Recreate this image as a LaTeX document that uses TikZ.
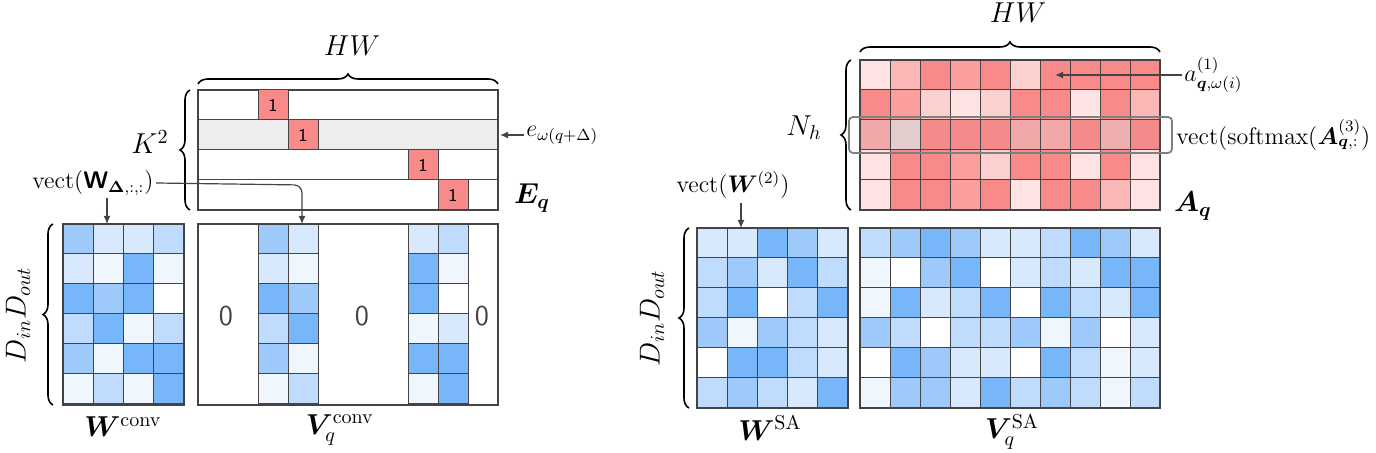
\documentclass[tikz,border=0pt]{standalone}
\usepackage{amsmath,bm}
\usetikzlibrary{decorations.pathreplacing,arrows.meta}
\definecolor{b0}{HTML}{FFFFFF}\definecolor{b1}{HTML}{F0F6FE}\definecolor{b2}{HTML}{D9E9FD}
\definecolor{b3}{HTML}{BFDBFD}\definecolor{b4}{HTML}{9EC9FB}\definecolor{b5}{HTML}{78B6FA}
\definecolor{r0}{HTML}{FFE3E3}\definecolor{r1}{HTML}{FDD0D0}\definecolor{r2}{HTML}{FBB6B6}
\definecolor{r3}{HTML}{FA9E9E}\definecolor{r4}{HTML}{F98A8A}
\definecolor{g1}{HTML}{F4A9A9}\definecolor{g2}{HTML}{E8D0D0}\definecolor{g3}{HTML}{F2B0B0}
\definecolor{ln}{HTML}{444444}
\newcommand\drawgrid[4]{\foreach \row [count=\j from 0] in {#4}{\foreach \c [count=\i from 0] in \row {\draw[cell,fill=\c] ({#1+\i*#3},{#2+\j*30}) rectangle ++(#3,30);}}}
\begin{document}
\begin{tikzpicture}[x=0.5pt,y=-0.5pt,
  cell/.style={draw=ln,line width=0.5pt},
  frame/.style={draw=ln,line width=0.6pt},
  one/.style={cell,fill=r4},
  br/.style={decorate,decoration={brace,amplitude=5pt},line width=0.8pt},
  arr/.style={-{Latex[length=4pt,width=3.5pt]},draw=ln,line width=0.6pt},
  lab/.style={inner sep=1pt,font=\large},
  big/.style={font=\Large,inner sep=1pt}]
\useasboundingbox (0,0) rectangle (1376,453);
% ---------- left: E_q
\fill[black!7] (198,120) rectangle (498,150);
\foreach \y in {120,150,180} \draw[ln,line width=0.5pt] (198,\y) -- (498,\y);
\draw[frame] (198,90) rectangle (498,210);
\foreach \x/\y in {258/90,288/120,408/150,438/180}
  {\draw[one] (\x,\y) rectangle ++(30,30); \node[font=\sffamily\small] at (\x+15,\y+15) {1};}
\draw[br] (198,84) -- (498,84);
\node[big] (hw1) at (352,46) {$HW$};
\draw[br] (190,210) -- (190,90);
\node[big] (k2) at (150,142) {$K^2$};
\coordinate (erow) at (500,135);
\node[lab,anchor=west] (elab) at (524,135) {$e_{\omega(q+\Delta)}$};
\draw[arr] (elab.west) -- (erow);
\node[big] (eq) at (532,198) {$\bm{E_q}$};
% ---------- W^conv
\drawgrid{63}{224}{30.25}{{b4,b2,b2,b3},{b2,b1,b5,b1},{b5,b4,b5,b0},{b3,b5,b1,b3},{b4,b1,b5,b5},{b1,b3,b1,b5}}
\draw[frame] (63,224) rectangle (184,405);
% ---------- V^conv
\drawgrid{258}{224}{30}{{b4,b2},{b2,b1},{b5,b4},{b3,b5},{b4,b1},{b1,b3}}
\drawgrid{408}{224}{30}{{b2,b3},{b5,b1},{b5,b0},{b1,b2},{b5,b5},{b1,b5}}
\draw[frame] (198,224) rectangle (498,405);
\foreach \x in {226,362,482} \node[font=\sffamily\Large,text=ln] at (\x,316) {0};
\node[lab] (vw) at (93,183) {$\mathrm{vect}(\textsf{\bfseries W}_{\bm{\Delta},:,:})$};
\coordinate (wtop) at (107,224);
\coordinate (vtop) at (302,224);
\draw[arr] (107,198) -- (wtop);
\draw[arr,rounded corners=4pt] (vw.east) -- (302,185) -- (vtop);
\draw[br] (53,405) -- (53,224);
\node[big,rotate=90] (dd1) at (18,315) {$D_{in}D_{out}$};
\node[big] (wc) at (123,427) {$\bm{W}^{\mathrm{conv}}$};
\node[big] (vc) at (340,430) {$\bm{V}_{q}^{\mathrm{conv}}$};
% ---------- right: A_q
\drawgrid{860}{60}{30}{{r0,r2,r4,r3,r4,r1,r4,r4,r4,r4},{r4,r3,r1,r0,r1,r4,r4,r0,r4,r2},{g1,g2,r4,r4,r4,g1,g1,r4,g3,r4},{r0,r4,r4,r3,r1,r4,r4,r0,r4,r0},{r0,r4,r4,r3,r4,r0,r4,r4,r2,r0}}
\draw[frame] (860,60) rectangle (1160,210);
\draw[draw=black!50,fill=black!40,fill opacity=0.04,line width=0.9pt,rounded corners=2pt] (849,117) rectangle (1172,153);
\draw[br] (860,52) -- (1160,52);
\node[big] (hw2) at (1018,13) {$HW$};
\draw[br] (851,210) -- (851,60);
\node[big] (nh) at (804,128) {$N_h$};
\coordinate (acell) at (1055,75);
\node[lab,anchor=west] (alab) at (1182,75) {$a^{(1)}_{\bm{q},\omega(i)}$};
\draw[arr] (alab.west) -- (acell);
\node[lab,anchor=west] (sm) at (1174,135) {$\mathrm{vect}(\mathrm{softmax}(\bm{A}^{(3)}_{\bm{q},:})$};
\node[big] (aq) at (1193,206) {$\bm{A_q}$};
% ---------- W^SA, V^SA
\drawgrid{697}{228}{30.2}{{b2,b2,b5,b4,b2},{b3,b4,b2,b5,b3},{b3,b5,b0,b3,b5},{b4,b1,b4,b3,b2},{b0,b5,b5,b3,b2},{b3,b4,b3,b2,b5}}
\draw[frame] (697,228) rectangle (848,408);
\drawgrid{860}{228}{30}{{b3,b4,b5,b4,b2,b2,b3,b5,b4,b2},{b1,b0,b4,b5,b0,b2,b3,b2,b5,b5},{b1,b5,b2,b3,b5,b0,b5,b3,b2,b5},{b4,b3,b0,b3,b3,b4,b1,b4,b0,b2},{b0,b5,b4,b2,b2,b0,b5,b3,b1,b2},{b1,b4,b4,b2,b5,b3,b4,b3,b1,b3}}
\draw[frame] (860,228) rectangle (1160,408);
\node[lab] (vw2) at (733,185) {$\mathrm{vect}(\bm{W}^{(2)})$};
\coordinate (w2top) at (741,228);
\draw[arr] (741,203) -- (w2top);
\draw[br] (689,408) -- (689,228);
\node[big,rotate=90] (dd2) at (652,318) {$D_{in}D_{out}$};
\node[big] (wsa) at (770,428) {$\bm{W}^{\mathrm{SA}}$};
\node[big] (vsa) at (1012,432) {$\bm{V}_{q}^{\mathrm{SA}}$};
\end{tikzpicture}
\end{document}
